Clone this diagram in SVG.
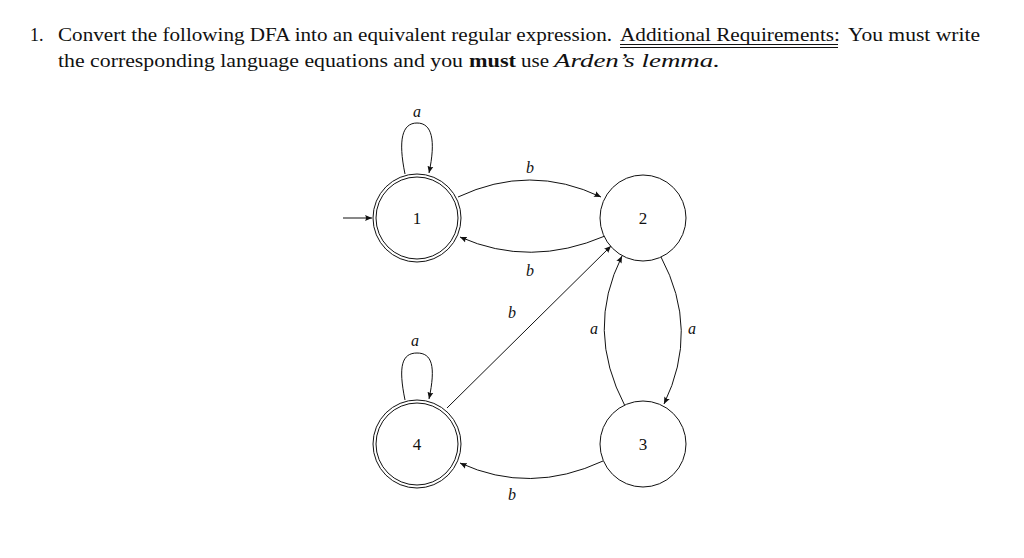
<svg xmlns="http://www.w3.org/2000/svg" width="1024" height="558" viewBox="0 0 1024 558">
<style>
text{font-family:"Liberation Serif","DejaVu Serif",serif;fill:#111}
.t{font-size:18px}
.lab{font-size:16px;font-style:italic;text-anchor:middle}
.num{font-size:17px;text-anchor:middle}
circle{fill:#fff;stroke:#111;stroke-width:1}
.e{fill:none;stroke:#111;stroke-width:1;marker-end:url(#ah)}
</style>
<defs><marker id="ah" markerWidth="8" markerHeight="8" refX="7" refY="4" orient="auto" markerUnits="userSpaceOnUse"><path d="M0,1 L7,4 L0,7 Q2,4 0,1Z" fill="#111"/></marker></defs>
<rect width="1024" height="558" fill="#fff"/>
<g id="title">
<text class="t" x="30" y="41">1.</text>
<text class="t" x="58" y="41" textLength="554" lengthAdjust="spacingAndGlyphs">Convert the following DFA into an equivalent regular expression.</text>
<text class="t" x="620" y="41" textLength="220" lengthAdjust="spacingAndGlyphs">Additional Requirements:</text>
<text class="t" x="848" y="41" textLength="132" lengthAdjust="spacingAndGlyphs">You must write</text>
<line x1="620" y1="44.5" x2="838" y2="44.5" stroke="#111"/>
<line x1="620" y1="47.5" x2="838" y2="47.5" stroke="#111"/>
<text class="t" x="58" y="67" textLength="405" lengthAdjust="spacingAndGlyphs">the corresponding language equations and you</text>
<text class="t" x="469" y="67" font-weight="bold" textLength="47" lengthAdjust="spacingAndGlyphs">must</text>
<text class="t" x="521" y="67" textLength="28" lengthAdjust="spacingAndGlyphs">use</text>
<text class="t" x="554" y="67" font-style="italic" textLength="166" lengthAdjust="spacingAndGlyphs">Arden’s lemma.</text>
</g>
<g id="edges">
<line class="e" x1="343" y1="218" x2="372" y2="218"/>
<path class="e" d="M405,174 C398,140 402,123 417,123 C432,123 436,140 429,173"/>
<path class="e" d="M405,400 C398,366 402,353 417,353 C432,353 436,366 429,399"/>
<path class="e" d="M458,197 Q530,163 601,197"/>
<path class="e" d="M605,236 Q530,268 460,237"/>
<line class="e" x1="447" y1="408" x2="611" y2="246"/>
<path class="e" d="M625,406 Q585,330 622,256"/>
<path class="e" d="M661,257 Q700,330 664,404"/>
<path class="e" d="M603,461 Q530,495 460,463"/>
</g>
<g id="labels">
<text class="lab" x="417" y="117">a</text>
<text class="lab" x="530" y="173">b</text>
<text class="lab" x="530" y="276">b</text>
<text class="lab" x="512" y="318">b</text>
<text class="lab" x="594" y="334">a</text>
<text class="lab" x="692" y="334">a</text>
<text class="lab" x="415" y="346">a</text>
<text class="lab" x="512" y="500">b</text>
</g>
<g id="node1"><circle cx="417" cy="218" r="44"/><circle cx="417" cy="218" r="41"/><text class="num" x="417" y="224">1</text></g>
<g id="node2"><circle cx="643" cy="218" r="43"/><text class="num" x="643" y="224">2</text></g>
<g id="node4"><circle cx="417" cy="444" r="44"/><circle cx="417" cy="444" r="41"/><text class="num" x="417" y="450">4</text></g>
<g id="node3"><circle cx="643" cy="444" r="43"/><text class="num" x="643" y="450">3</text></g>
</svg>
